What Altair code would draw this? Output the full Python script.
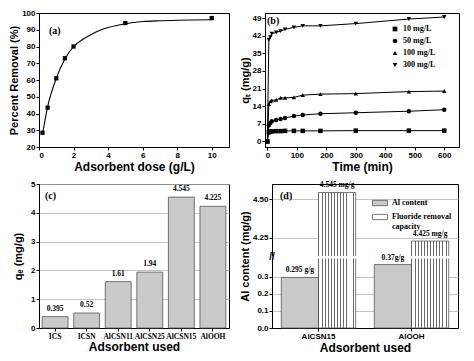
import altair as alt
import pandas as pd

SANS = "Liberation Sans"
SERIF = "Liberation Serif"

# ---------------- data ----------------
panel_tags = ["(a)", "(b)", "(c)", "(d)"]

# (a) percent removal vs adsorbent dose
dose = [0.2, 0.5, 1.0, 1.5, 2.0, 5.0, 10.0]
removal = [28.5, 43.5, 61.0, 73.0, 80.0, 94.0, 97.0]
fit_dose = [0.2, 0.5, 1.0, 1.5, 2.0, 2.5, 3.0, 3.5, 4.0, 5.0, 6.0, 7.0, 8.0, 10.0]
fit_removal = [27.5, 44.0, 61.0, 72.5, 80.0, 84.0, 87.0, 89.5, 91.3, 93.6, 94.9, 95.4, 95.7, 96.0]

# (b) qt vs time
time_min = [0, 5, 10, 15, 30, 45, 60, 90, 120, 180, 300, 480, 600]
series_b = ["10 mg/L", "50 mg/L", "100 mg/L", "300 mg/L"]
qt_10 = [0, 3.6, 3.9, 4.0, 4.1, 4.1, 4.2, 4.2, 4.2, 4.2, 4.3, 4.3, 4.3]
qt_50 = [0, 6.4, 7.3, 8.0, 8.5, 8.9, 9.3, 10.1, 10.5, 11.0, 11.4, 12.0, 12.6]
qt_100 = [0, 14.8, 15.9, 16.3, 16.5, 17.3, 17.3, 17.5, 18.4, 18.8, 19.0, 19.8, 20.0]
qt_300 = [0, 40.4, 41.4, 42.8, 43.3, 43.8, 44.5, 45.3, 45.9, 45.9, 46.8, 48.6, 49.4]
shapes_b = ["square", "circle", "triangle-up", "triangle-down"]

# (c) qe by adsorbent
c_names = ["ICS", "ICSN", "AlCSN11", "AlCSN25", "AlCSN15", "AlOOH"]
c_qe = [0.395, 0.52, 1.61, 1.94, 4.545, 4.225]
c_text = ["0.395", "0.52", "1.61", "1.94", "4.545", "4.225"]

# (d) Al content and fluoride removal capacity (bar heights as drawn on the broken axis)
d_groups = ["AlCSN15", "AlOOH"]
d_types = ["Al content", "Fluoride removal capacity"]
d_al = [0.295, 0.37]
d_fl = [4.545, 4.23]
d_al_text = ["0.295 g/g", "0.37g/g"]
d_fl_text = ["4.545 mg/g", "4.425 mg/g"]
d_ticks = [0.0, 0.1, 0.2, 0.3, 4.25, 4.50]

# ---------------- tables ----------------
df_a = pd.DataFrame({"dose": dose, "removal": removal})
df_fit = pd.DataFrame({"dose": fit_dose, "removal": fit_removal})

rows = []
for s, vals in zip(series_b, [qt_10, qt_50, qt_100, qt_300]):
    for t, v in zip(time_min, vals):
        rows.append({"time": t, "qt": v, "series": s})
df_b = pd.DataFrame(rows)

df_c = pd.DataFrame({"ads": c_names, "qe": c_qe, "txt": c_text})

rows = []
for g, a, f, at, ft in zip(d_groups, d_al, d_fl, d_al_text, d_fl_text):
    rows.append({"group": g, "type": d_types[0], "value": a, "txt": at})
    rows.append({"group": g, "type": d_types[1], "value": f, "txt": ft})
df_d = pd.DataFrame(rows)

# ---------------- styles ----------------
tag_style = dict(font=SERIF, fontWeight="bold", fontSize=10, color="black", align="left")
AX = dict(labelOverlap=False, tickCount=40, labelFont=SANS, labelFontWeight="bold", labelFontSize=8,
          labelColor="black", labelPadding=1, tickSize=3)

# ===== (a) =====
xa = alt.X("dose:Q", scale=alt.Scale(domain=[0, 11], nice=False),
           axis=alt.Axis(values=[0, 2, 4, 6, 8, 10], format="d", title="Adsorbent dose (g/L)", **AX))
ya = alt.Y("removal:Q", scale=alt.Scale(domain=[20, 100], nice=False),
           axis=alt.Axis(values=list(range(20, 101, 10)), format="d", title="Percent Removal (%)", **AX))
a_line = alt.Chart(df_fit).mark_line(color="black", strokeWidth=1.1, interpolate="monotone").encode(x=xa, y=ya)
a_pts = alt.Chart(df_a).mark_point(shape="square", filled=True, color="black", size=18, opacity=1).encode(
    x="dose:Q", y="removal:Q")
a_tag = alt.Chart(pd.DataFrame({"tag": [panel_tags[0]]})).mark_text(**tag_style).encode(
    text="tag:N", x=alt.value(10), y=alt.value(18))
panel_a = alt.layer(a_line, a_pts, a_tag).properties(width=190, height=134)

# ===== (b) =====
xb = alt.X("time:Q", scale=alt.Scale(domain=[-8, 650], nice=False),
           axis=alt.Axis(values=list(range(0, 601, 100)), format="d", title="Time (min)", **AX))
yb = alt.Y("qt:Q", scale=alt.Scale(domain=[-2.2, 51], nice=False, zero=False),
           axis=alt.Axis(values=list(range(0, 50, 7)), format="d", title="qₜ (mg/g)", **AX))
b_lines = alt.Chart(df_b).mark_line(color="black", strokeWidth=1).encode(x=xb, y=yb, detail="series:N")
b_pts = alt.Chart(df_b).mark_point(filled=True, color="black", size=20, opacity=1).encode(
    x="time:Q", y="qt:Q",
    shape=alt.Shape("series:N", sort=series_b,
                    scale=alt.Scale(domain=series_b, range=shapes_b),
                    legend=alt.Legend(title=None, orient="none", legendX=126, legendY=12,
                                      labelFont=SERIF, labelFontWeight="bold", labelFontSize=8,
                                      labelColor="black", symbolSize=22, rowPadding=0,
                                      symbolFillColor="black", symbolStrokeColor="black")))
b_tag = alt.Chart(pd.DataFrame({"tag": [panel_tags[1]]})).mark_text(**tag_style).encode(
    text="tag:N", x=alt.value(2), y=alt.value(8))
panel_b = alt.layer(b_lines, b_pts, b_tag).properties(width=194, height=134)

# ===== (c) =====
xc = alt.X("ads:N", sort=c_names, scale=alt.Scale(paddingInner=0.18, paddingOuter=0.1),
           axis=alt.Axis(labelAngle=0, title="Adsorbent used", **{**AX, "labelFont": SERIF, "labelFontSize": 7.5}))
yc = alt.Y("qe:Q", scale=alt.Scale(domain=[0, 5], nice=False),
           axis=alt.Axis(values=[0, 1, 2, 3, 4, 5], format="d", title="qₑ (mg/g)", grid=True,
                         gridColor="#b5b5b5", gridWidth=0.8, titlePadding=7, **AX))
c_bars = alt.Chart(df_c).mark_bar(fill="#cacaca", stroke="#555555", strokeWidth=0.8).encode(x=xc, y=yc)
c_txt = alt.Chart(df_c).mark_text(font=SERIF, fontWeight="bold", fontSize=7.5, baseline="bottom",
                                  dy=-4, color="black").encode(
    x=alt.X("ads:N", sort=c_names), y="qe:Q", text="txt:N")
c_tag = alt.Chart(pd.DataFrame({"tag": [panel_tags[2]]})).mark_text(**tag_style).encode(
    text="tag:N", x=alt.value(6), y=alt.value(12))
panel_c = alt.layer(c_bars, c_txt, c_tag).properties(width=190, height=144)

# ===== (d) broken axis =====
LOW_TOP = 0.405     # top of the lower segment (data units)
UP_START = 0.42     # display position where the upper segment starts
UP_BASE = 4.133     # data value at the bottom of the upper segment
K = 0.9             # upper segment compression
D_TOP = UP_START + (4.60 - UP_BASE) * K


def to_disp(v):
    return v if v <= LOW_TOP else UP_START + (v - UP_BASE) * K


disp_expr = f"datum.value <= {LOW_TOP} ? datum.value : {UP_START} + (datum.value - {UP_BASE}) * {K}"
label_expr = (f"datum.value < {LOW_TOP} ? format(datum.value, '.1f') : "
              f"format({UP_BASE} + (datum.value - {UP_START}) / {K}, '.2f')")

stops = []
n = 12
for i in range(n):
    a0 = i / n
    a1 = a0 + 0.3 / n
    stops += [alt.GradientStop(offset=a0, color="#6a6a6a"), alt.GradientStop(offset=a1, color="#6a6a6a"),
              alt.GradientStop(offset=a1, color="#ffffff"), alt.GradientStop(offset=(i + 1) / n, color="#ffffff")]
stripes = alt.LinearGradient(gradient="linear", stops=stops, x1=0, x2=1, y1=0, y2=0)

xd = alt.X("group:N", sort=d_groups, scale=alt.Scale(paddingInner=0.2, paddingOuter=0.1),
           axis=alt.Axis(labelAngle=0, title="Adsorbent used", **AX))
xd2 = alt.X("group:N", sort=d_groups)
xod = alt.XOffset("type:N", sort=d_types, scale=alt.Scale(domain=d_types, paddingInner=0, paddingOuter=0))
yd = alt.Y("yd:Q", scale=alt.Scale(domain=[0, D_TOP], nice=False),
           axis=alt.Axis(values=[to_disp(v) for v in d_ticks], labelExpr=label_expr, grid=True,
                         gridColor="#b5b5b5", gridWidth=0.8, title="Al content (mg/g)", **AX))

base_d = alt.Chart(df_d).transform_calculate(yd=disp_expr)
d_al_bars = base_d.transform_filter(alt.datum.type == d_types[0]).mark_bar(
    stroke="#555555", strokeWidth=0.8).encode(
    x=xd, xOffset=xod, y=yd,
    color=alt.Color("type:N", scale=alt.Scale(domain=d_types, range=["#cacaca", "#ffffff"]),
                    legend=alt.Legend(title=None, orient="none", legendX=100, legendY=11,
                                      symbolType="M-1,-0.35H1V0.35H-1Z", symbolSize=225,
                                      symbolStrokeColor="#555555", symbolStrokeWidth=0.8,
                                      labelFont=SERIF, labelFontWeight="bold", labelFontSize=8,
                                      labelColor="black", rowPadding=1,
                                      labelExpr="datum.label == 'Fluoride removal capacity' ? "
                                                "['Fluoride removal', 'capacity'] : datum.label")))
d_fl_bars = base_d.transform_filter(alt.datum.type == d_types[1]).mark_bar(
    fill=stripes, stroke="#555555", strokeWidth=0.8).encode(
    x=xd2, xOffset=xod, y=alt.Y("yd:Q", title="Al content (mg/g)"))
d_gap = alt.Chart(pd.DataFrame({"k": [0]})).mark_rect(fill="white").encode(
    x=alt.value(0.5), x2=alt.value(185.5), y=alt.datum(LOW_TOP), y2=alt.datum(UP_START))
d_brk = alt.Chart(pd.DataFrame({"k": ["//"]})).mark_text(
    font=SANS, fontSize=10, fontWeight="bold", color="black").encode(
    text="k:N", x=alt.value(0), y=alt.datum((LOW_TOP + UP_START) / 2))
d_txt = base_d.mark_text(font=SERIF, fontWeight="bold", fontSize=7.5, baseline="bottom", dy=-3,
                         color="black").encode(x=xd2, xOffset=xod, y=alt.Y("yd:Q", title="Al content (mg/g)"),
                                               text="txt:N")
d_tag = alt.Chart(pd.DataFrame({"tag": [panel_tags[3]]})).mark_text(**tag_style).encode(
    text="tag:N", x=alt.value(8), y=alt.value(12))
panel_d = alt.layer(d_al_bars, d_fl_bars, d_gap, d_brk, d_txt, d_tag).properties(width=186, height=144)

# ---------------- compose ----------------
row1 = alt.hconcat(panel_a, panel_b, spacing=8).resolve_legend(shape="independent", color="independent")
row2 = alt.hconcat(panel_c, panel_d, spacing=8).resolve_legend(shape="independent", color="independent")
chart = alt.vconcat(row1, row2, spacing=6).resolve_legend(
    shape="independent", color="independent"
).properties(padding=0, background="white").configure_view(
    stroke="black", strokeWidth=1
).configure_axis(
    domainColor="black", tickColor="black", labelColor="black", titleColor="black",
    labelFont=SANS, labelFontWeight="bold", labelFontSize=8,
    titleFont=SANS, titleFontWeight="bold", titleFontSize=12,
    tickSize=3, labelPadding=1, titlePadding=2, grid=False, domainWidth=1,
    labelOverlap=False
).configure_axisY(titleFontSize=11)

chart.save("out.html", embed_options={"renderer": "svg", "actions": False})
